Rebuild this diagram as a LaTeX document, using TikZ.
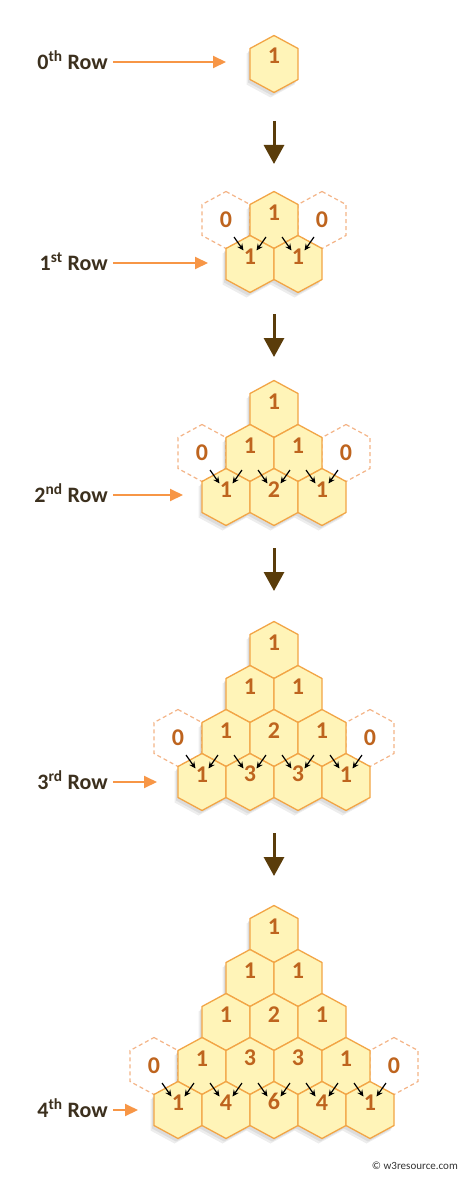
\documentclass[tikz,border=0pt]{standalone}
\usepackage{fontspec}
\setmainfont{Carlito}
\usetikzlibrary{arrows.meta,calc}
\definecolor{numc}{RGB}{190,100,30}
\definecolor{labc}{RGB}{60,48,30}
\definecolor{hexb}{RGB}{242,165,70}
\definecolor{hexfillc}{RGB}{255,244,184}
\definecolor{dashc}{RGB}{244,180,135}
\definecolor{orarrc}{RGB}{247,150,70}
\definecolor{brarrc}{RGB}{90,60,10}
\newcommand\hexat[2]{(#1,#2-28.5) -- (#1+24,#2-15.5) -- (#1+24,#2+15.5) -- (#1,#2+28.5) -- (#1-24,#2+15.5) -- (#1-24,#2-15.5) -- cycle}
\tikzset{
  num/.style={text=numc,font=\bfseries\fontsize{24}{24}\selectfont,inner sep=0pt},
  rowlab/.style={text=labc,font=\bfseries\fontsize{22}{22}\selectfont,inner sep=0pt,anchor=base east},
  hexcell/.style={fill=hexfillc,draw=hexb,line width=1.3pt,line join=miter},
  zerohex/.style={draw=dashc,line width=1.2pt,dash pattern=on 4pt off 3pt},
  hexshadow/.style={fill=black,opacity=0.07},
  blk/.style={black,line width=1.2pt,-{Stealth[length=6.5pt,width=6pt]}},
  orarr/.style={orarrc,line width=2pt,-{Triangle[length=13pt,width=12pt]}},
  brarr/.style={brarrc,line width=3pt,-{Triangle[length=19pt,width=20pt]}}
}
\def\zerocells{226/220/s1p0,322/220/s1p2,202/453/s2p0,346/453/s2p3,178/738/s3p0,370/738/s3p4,154/1066/s4p0,394/1066/s4p5}
\def\fullcells{274/64/s0t0/1,
274/220/s1p1/1,250/264/s1c0/1,298/264/s1c1/1,
274/409/s2t0/1,250/453/s2p1/1,298/453/s2p2/1,226/497/s2c0/1,274/497/s2c1/2,322/497/s2c2/1,
274/650/s3t0/1,250/694/s3t1/1,298/694/s3t2/1,226/738/s3p1/1,274/738/s3p2/2,322/738/s3p3/1,202/782/s3c0/1,250/782/s3c1/3,298/782/s3c2/3,346/782/s3c3/1,
274/934/s4t0/1,250/978/s4t1/1,298/978/s4t2/1,226/1022/s4t3/1,274/1022/s4t4/2,322/1022/s4t5/1,202/1066/s4p1/1,250/1066/s4p2/3,298/1066/s4p3/3,346/1066/s4p4/1,178/1110/s4c0/1,226/1110/s4c1/4,274/1110/s4c2/6,322/1110/s4c3/4,370/1110/s4c4/1}
\begin{document}
\begin{tikzpicture}[x=1pt,y=-1pt]
\fill[white] (0,0) rectangle (474,1185);
\useasboundingbox (0,0) rectangle (474,1185);
% dashed zero cells
\foreach \hx/\hy/\hn in \zerocells {
  \draw[zerohex] \hexat{\hx}{\hy};
  \node[num] (\hn) at (\hx,\hy) {0};
}
% shadows
\foreach \hx/\hy/\hn/\ht in \fullcells {
  \fill[hexshadow] \hexat{\hx-2}{\hy+3};
  \fill[hexshadow] \hexat{\hx-3.5}{\hy+5};
}
% filled cells
\foreach \hx/\hy/\hn/\ht in \fullcells {
  \path[hexcell] \hexat{\hx}{\hy};
  \node[num] (\hn) at (\hx,\hy) {\ht};
}
% black arrows from parents to children
\foreach \sn in {1,2,3,4} {
  \foreach \kn in {0,...,\sn} {
    \pgfmathtruncatemacro\kk{\kn+1}
    \draw[blk] ($(s\sn p\kn)+(8,17)$) -- ($(s\sn c\kn)+(-6.5,-13.5)$);
    \draw[blk] ($(s\sn p\kk)+(-8,17)$) -- ($(s\sn c\kn)+(6.5,-13.5)$);
  }
}
% brown arrows between stages
\coordinate (b1s) at (274,121); \coordinate (b1e) at (274,164);
\coordinate (b2s) at (274,314); \coordinate (b2e) at (274,357);
\coordinate (b3s) at (274,548); \coordinate (b3e) at (274,591);
\coordinate (b4s) at (274,833); \coordinate (b4e) at (274,876);
\draw[brarr] (b1s) -- (b1e);
\draw[brarr] (b2s) -- (b2e);
\draw[brarr] (b3s) -- (b3e);
\draw[brarr] (b4s) -- (b4e);
% row labels
\node[rowlab] (l0) at (108,69.5) {0\textsuperscript{th} Row};
\node[rowlab] (l1) at (108,270.5) {1\textsuperscript{st} Row};
\node[rowlab] (l2) at (108,502.5) {2\textsuperscript{nd} Row};
\node[rowlab] (l3) at (108,789.5) {3\textsuperscript{rd} Row};
\node[rowlab] (l4) at (108,1117.5) {4\textsuperscript{th} Row};
\coordinate (e0) at (226,62);
\coordinate (e1) at (208,263);
\coordinate (e2) at (183,495);
\coordinate (e3) at (157,782);
\coordinate (e4) at (138,1110);
\draw[orarr] ($(l0.east |- e0)+(5,0)$) -- (e0);
\draw[orarr] ($(l1.east |- e1)+(5,0)$) -- (e1);
\draw[orarr] ($(l2.east |- e2)+(5,0)$) -- (e2);
\draw[orarr] ($(l3.east |- e3)+(5,0)$) -- (e3);
\draw[orarr] ($(l4.east |- e4)+(5,0)$) -- (e4);
% credit
\node[anchor=east,text=black!80,font=\fontsize{11}{11}\selectfont,inner sep=0pt] (credit) at (458,1166) {© w3resource.com};
\end{tikzpicture}
\end{document}
